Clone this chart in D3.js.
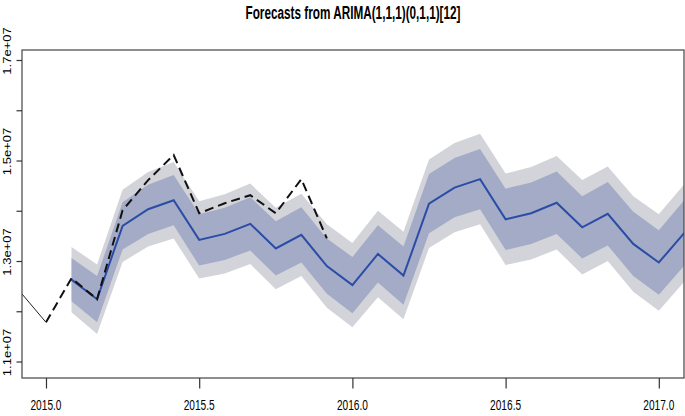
<!DOCTYPE html>
<html>
<head>
<meta charset="utf-8">
<script src="https://cdn.jsdelivr.net/npm/d3@7"></script>
<style>
  html, body { margin: 0; padding: 0; background: #ffffff; }
  svg { display: block; }
  text { font-family: "Liberation Sans", Arial, sans-serif; fill: #000; }
</style>
</head>
<body>
<svg id="chart" width="685" height="416"></svg>
<script>
// ---- data (values in millions) ----
const freq = 12;
const historyTimes = [2014 + 11/12, 2015.0];
const historyValues = [12.38, 11.78];

const testStart = 2015.0;
const testValues = [11.78, 12.66, 12.24, 14.01, 14.61, 15.11, 13.95, 14.15, 14.31, 13.95, 14.63, 13.45];

const forecastStart = 2015 + 1/12;
const forecastMean = [12.63, 12.24, 13.70, 14.03, 14.21, 13.42, 13.54, 13.74, 13.25, 13.52, 12.90, 12.52,
                      13.14, 12.71, 14.14, 14.46, 14.63, 13.83, 13.95, 14.16, 13.67, 13.94, 13.34, 12.97, 13.56];
const lo80 = [12.20, 11.78, 13.23, 13.54, 13.71, 12.91, 13.02, 13.21, 12.71, 12.97, 12.35, 11.96,
              12.57, 12.13, 13.55, 13.87, 14.03, 13.22, 13.34, 13.54, 13.05, 13.31, 12.70, 12.33, 12.91];
const hi80 = [13.06, 12.70, 14.17, 14.52, 14.71, 13.93, 14.06, 14.27, 13.79, 14.07, 13.45, 13.08,
              13.71, 13.29, 14.73, 15.05, 15.23, 14.44, 14.56, 14.78, 14.29, 14.57, 13.98, 13.61, 14.21];
const lo95 = [11.98, 11.55, 12.98, 13.29, 13.45, 12.65, 12.75, 12.94, 12.44, 12.70, 12.07, 11.68,
              12.28, 11.84, 13.26, 13.57, 13.73, 12.92, 13.03, 13.23, 12.73, 13.00, 12.39, 12.01, 12.59];
const hi95 = [13.28, 12.93, 14.42, 14.77, 14.97, 14.19, 14.33, 14.54, 14.06, 14.34, 13.73, 13.36,
              14.00, 13.58, 15.02, 15.35, 15.53, 14.74, 14.87, 15.09, 14.61, 14.88, 14.29, 13.93, 14.53];

const xTicks = [2015.0, 2015.5, 2016.0, 2016.5, 2017.0];
const xTickLabels = ["2015.0", "2015.5", "2016.0", "2016.5", "2017.0"];
const yTicks = [11, 12, 13, 14, 15, 16, 17];
const yTickLabels = ["1.1e+07", "", "1.3e+07", "", "1.5e+07", "", "1.7e+07"];
const title = "Forecasts from ARIMA(1,1,1)(0,1,1)[12]";

// ---- layout ----
const plot = { left: 22, right: 684, top: 50, bottom: 378 };
const svg = d3.select("#chart");

const x = d3.scaleLinear().domain([2014.9217, 2017.0822]).range([plot.left, plot.right]);
const y = d3.scaleLinear().domain([10.672, 17.199]).range([plot.bottom, plot.top]);

svg.append("defs").append("clipPath").attr("id", "clip")
  .append("rect")
  .attr("x", plot.left).attr("y", plot.top)
  .attr("width", plot.right - plot.left).attr("height", plot.bottom - plot.top);

const g = svg.append("g").attr("clip-path", "url(#clip)");

const fc = forecastMean.map((m, i) => ({
  t: forecastStart + i / freq, m, lo80: lo80[i], hi80: hi80[i], lo95: lo95[i], hi95: hi95[i]
}));

const area95 = d3.area().x(d => x(d.t)).y0(d => y(d.lo95)).y1(d => y(d.hi95));
const area80 = d3.area().x(d => x(d.t)).y0(d => y(d.lo80)).y1(d => y(d.hi80));

g.append("path").datum(fc).attr("d", area95).attr("fill", "#d3d4d9");
g.append("path").datum(fc).attr("d", area80).attr("fill", "#a3abc6");

const line = d3.line().x(d => x(d[0])).y(d => y(d[1]));

// history (solid thin)
g.append("path")
  .datum(historyTimes.map((t, i) => [t, historyValues[i]]))
  .attr("d", line).attr("fill", "none").attr("stroke", "#222").attr("stroke-width", 1);

// forecast mean (blue)
g.append("path")
  .datum(fc.map(d => [d.t, d.m]))
  .attr("d", line).attr("fill", "none").attr("stroke", "#2b4ca6").attr("stroke-width", 2);

// actual test data (dashed)
g.append("path")
  .datum(testValues.map((v, i) => [testStart + i / freq, v]))
  .attr("d", line).attr("fill", "none").attr("stroke", "#111")
  .attr("stroke-width", 2).attr("stroke-dasharray", "9,5");

// ---- box ----
svg.append("rect")
  .attr("x", plot.left).attr("y", plot.top)
  .attr("width", plot.right - plot.left).attr("height", plot.bottom - plot.top)
  .attr("fill", "none").attr("stroke", "#444").attr("stroke-width", 1.2);

// ---- axes ----
const xAxis = d3.axisBottom(x).tickValues(xTicks).tickSize(10.5).tickFormat("");
const xg = svg.append("g").attr("transform", `translate(0,${plot.bottom})`).call(xAxis);
xg.select(".domain").remove();
xg.selectAll(".tick line").attr("stroke", "#333").attr("stroke-width", 1.2);

xTicks.forEach((t, i) => {
  svg.append("text")
    .attr("x", x(t)).attr("y", 410)
    .attr("text-anchor", "middle")
    .attr("font-size", 14)
    .attr("textLength", 31)
    .attr("lengthAdjust", "spacingAndGlyphs")
    .text(xTickLabels[i]);
});

const yAxis = d3.axisLeft(y).tickValues(yTicks).tickSize(5.5).tickFormat("");
const yg = svg.append("g").attr("transform", `translate(${plot.left},0)`).call(yAxis);
yg.select(".domain").remove();
yg.selectAll(".tick line").attr("stroke", "#333").attr("stroke-width", 1.2);

yTicks.forEach((v, i) => {
  if (!yTickLabels[i]) return;
  svg.append("text")
    .attr("transform", `translate(11,${y(v) - 9}) scale(0.78,1) rotate(-90)`)
    .attr("text-anchor", "middle")
    .attr("font-size", 13)
    .text(yTickLabels[i]);
});

// ---- title ----
svg.append("text")
  .attr("x", (plot.left + plot.right) / 2).attr("y", 19)
  .attr("text-anchor", "middle")
  .attr("font-size", 18).attr("font-weight", "bold")
  .attr("textLength", 215)
  .attr("lengthAdjust", "spacingAndGlyphs")
  .text(title);
</script>
</body>
</html>
